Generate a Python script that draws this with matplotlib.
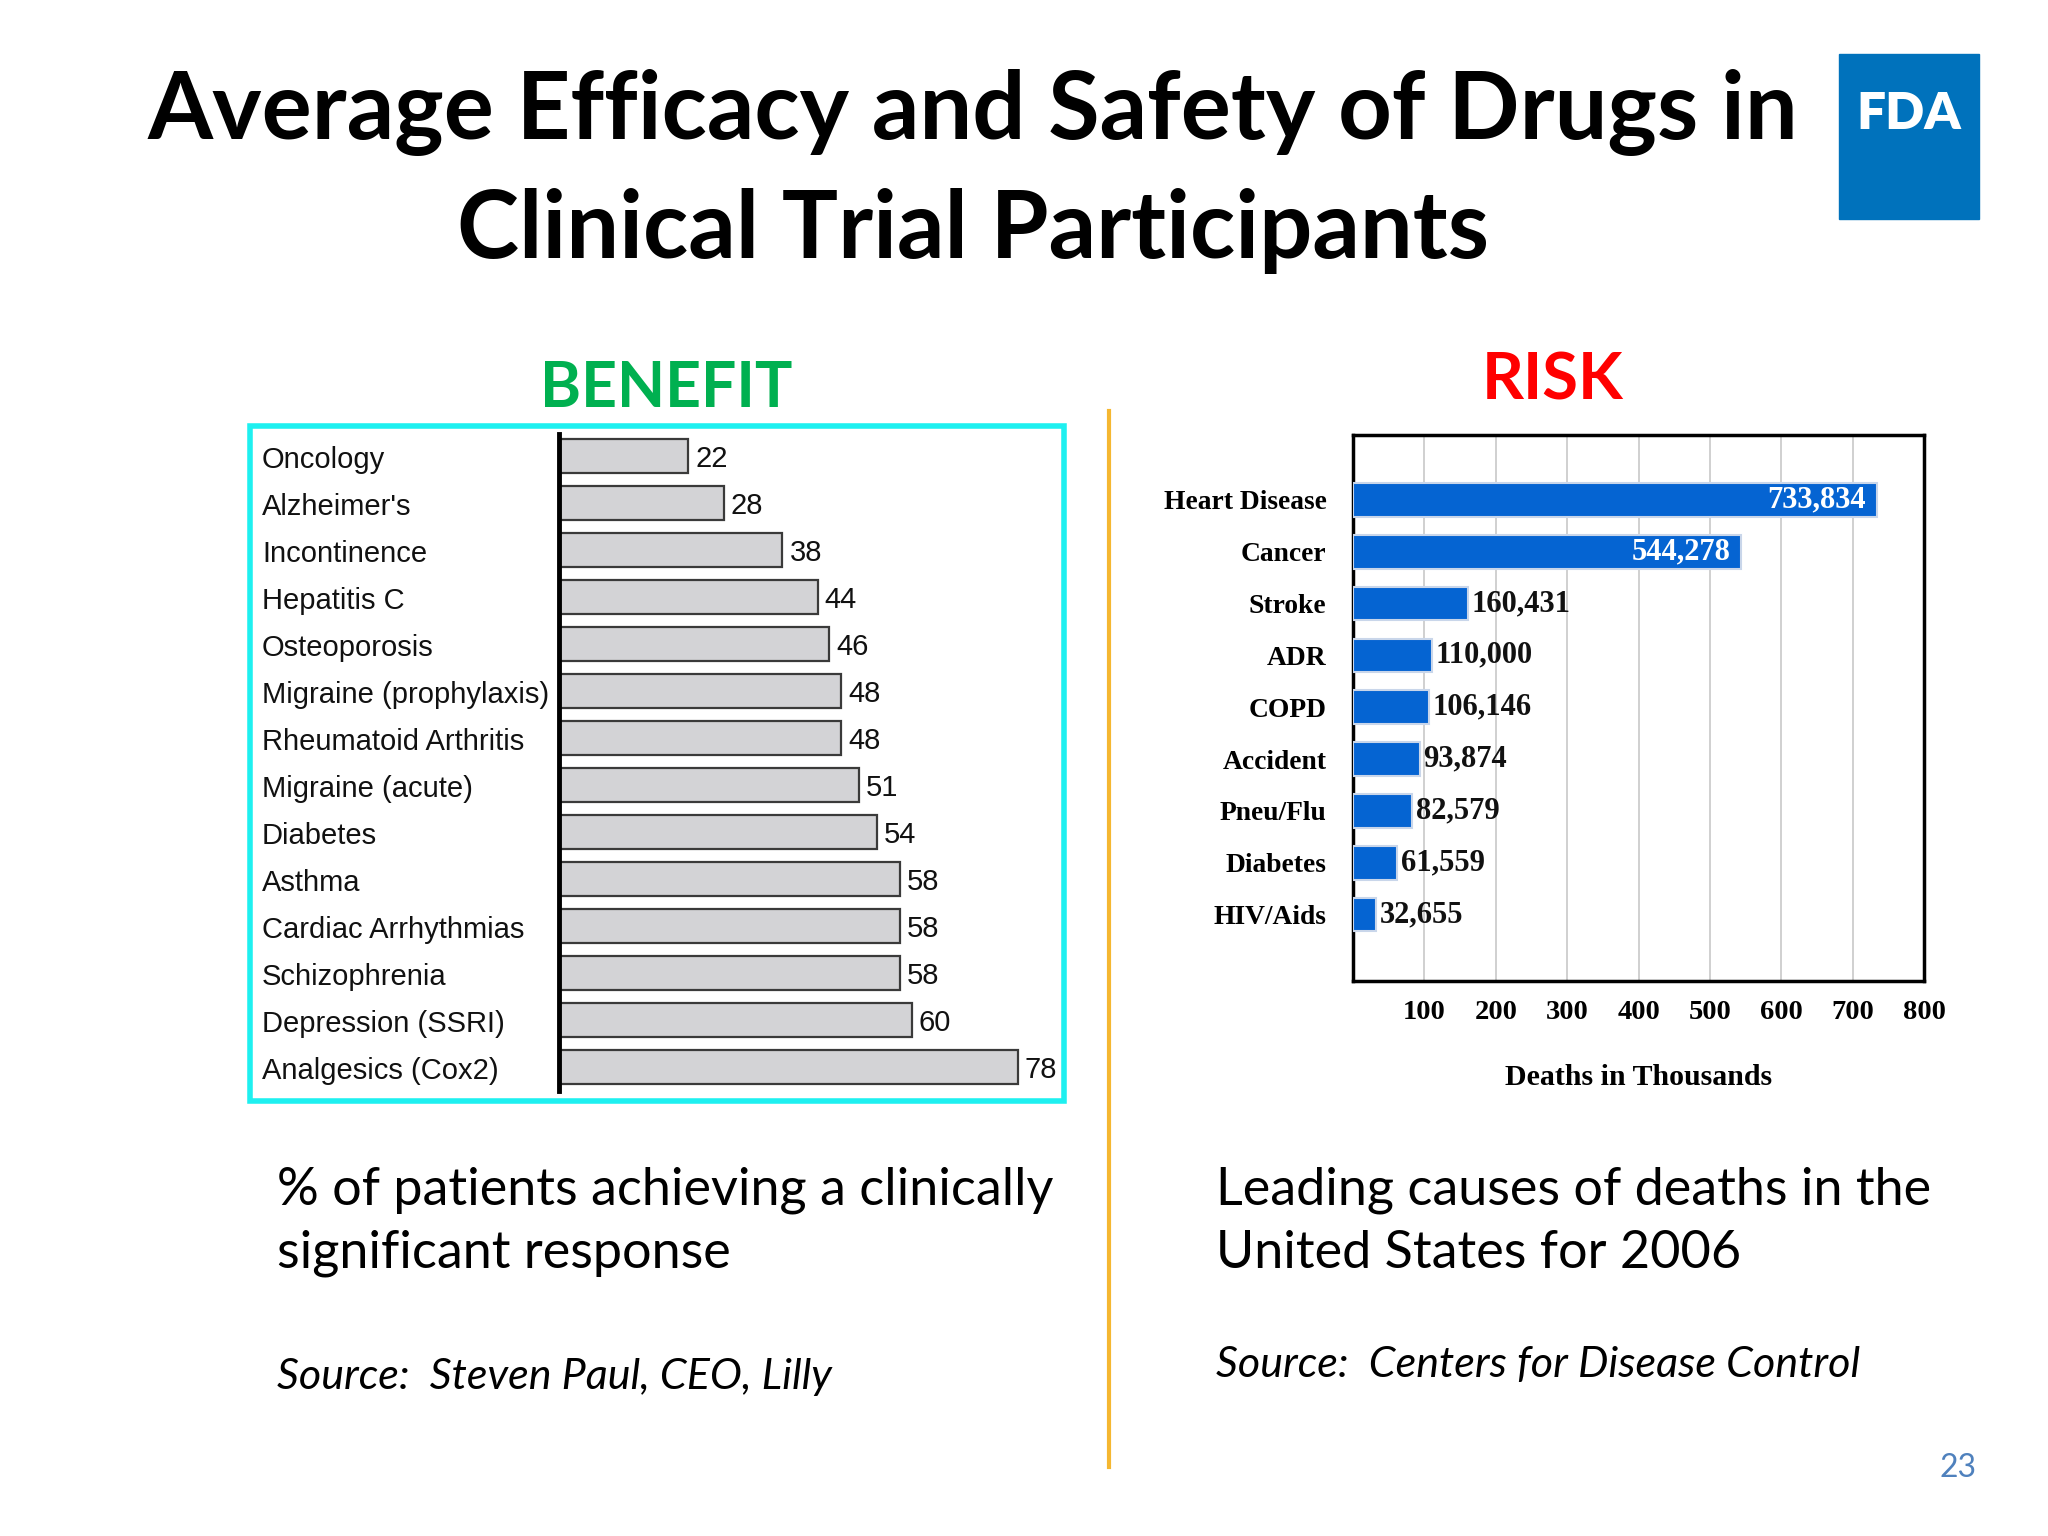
import matplotlib.pyplot as plt
import matplotlib.transforms as mtransforms
from matplotlib.patches import Rectangle

# Daten - Benefit (% Patienten mit klinisch relevantem Ansprechen)
benefit_labels = ['Oncology', "Alzheimer's", 'Incontinence', 'Hepatitis C', 'Osteoporosis',
                  'Migraine (prophylaxis)', 'Rheumatoid Arthritis', 'Migraine (acute)', 'Diabetes',
                  'Asthma', 'Cardiac Arrhythmias', 'Schizophrenia', 'Depression (SSRI)', 'Analgesics (Cox2)']
benefit_values = [22, 28, 38, 44, 46, 48, 48, 51, 54, 58, 58, 58, 60, 78]

# Daten - Risk (Todesfaelle USA 2006)
risk_labels = ['Heart Disease', 'Cancer', 'Stroke', 'ADR', 'COPD', 'Accident', 'Pneu/Flu', 'Diabetes', 'HIV/Aids']
risk_deaths = [733834, 544278, 160431, 110000, 106146, 93874, 82579, 61559, 32655]
risk_ticks = [100, 200, 300, 400, 500, 600, 700, 800]

W, H = 2048, 1536
fig = plt.figure(figsize=(W / 100, H / 100), dpi=100)


def px_axes(x0, y0, x1, y1):
    return fig.add_axes([x0 / W, 1 - y1 / H, (x1 - x0) / W, (y1 - y0) / H])


# Hintergrund-Achse fuer Texte und Rahmen (Pixelkoordinaten)
ax0 = fig.add_axes([0, 0, 1, 1])
ax0.set_xlim(0, W)
ax0.set_ylim(H, 0)
ax0.axis('off')

ax0.text(973, 113, 'Average Efficacy and Safety of Drugs in', ha='center', va='center',
         fontsize=67.5, fontweight='bold', family='Lato')
ax0.text(973, 231, 'Clinical Trial Participants', ha='center', va='center',
         fontsize=67.5, fontweight='bold', family='Lato')

# FDA Logo
ax0.add_patch(Rectangle((1839, 54), 140, 165, color='#0072BC'))
ax0.text(1909, 114, 'FDA', ha='center', va='center', color='white', fontsize=37,
         fontweight='heavy', family='Lato')

ax0.text(666, 389, 'BENEFIT', ha='center', va='center', color='#00B050',
         fontsize=45, fontweight='bold', family='Lato')
ax0.text(1553, 381, 'RISK', ha='center', va='center', color='#FF0000',
         fontsize=47, fontweight='bold', family='Lato')

# Rahmen links, Trennlinie
ax0.add_patch(Rectangle((250, 426), 814, 675, fill=False, edgecolor='#1EF0F0', lw=4))
ax0.plot([1109, 1109], [411, 1467], color='#F5B731', lw=3)

# Untertitel / Quellen
ax0.text(277, 1190, '% of patients achieving a clinically', ha='left', va='center', fontsize=37.5, family='Lato')
ax0.text(277, 1253, 'significant response', ha='left', va='center', fontsize=37.5, family='Lato')
ax0.text(277, 1377, 'Source:  Steven Paul, CEO, Lilly', ha='left', va='center', fontsize=31,
         style='italic', family='Lato')
ax0.text(1216, 1190, 'Leading causes of deaths in the', ha='left', va='center', fontsize=37.5, family='Lato')
ax0.text(1216, 1253, 'United States for 2006', ha='left', va='center', fontsize=37.5, family='Lato')
ax0.text(1216, 1365, 'Source:  Centers for Disease Control', ha='left', va='center', fontsize=31,
         style='italic', family='Lato')
ax0.text(1958, 1468, '23', ha='center', va='center', color='#4F81BD', fontsize=23, family='Lato')

# Linkes Diagramm
ax1 = px_axes(559, 434, 1040, 1091)
ypos = list(range(len(benefit_values)))
ax1.barh(ypos, benefit_values, height=0.72, color='#D3D3D6', edgecolor='#3a3a3a', lw=1.6)
ax1.set_xlim(0, 481 / 5.88)
ax1.set_ylim(13.51, -0.47)
for s in ['top', 'right', 'bottom']:
    ax1.spines[s].set_visible(False)
ax1.spines['left'].set_linewidth(3.5)
ax1.set_xticks([])
ax1.set_yticks([])
ax1.patch.set_visible(False)
trans = mtransforms.blended_transform_factory(fig.transFigure, ax1.transData)
for i, (lab, v) in enumerate(zip(benefit_labels, benefit_values)):
    ax1.text(262 / W, i + 0.08, lab, transform=trans, ha='left', va='center', fontsize=21,
             family='Liberation Sans', color='#111111')
    ax1.text(v + 1.2, i + 0.06, str(v), ha='left', va='center', fontsize=21,
             family='Liberation Sans', color='#111111')

# Rechtes Diagramm
ax2 = px_axes(1353, 435, 1924, 981)
vals = [d / 1000 for d in risk_deaths]
rpos = list(range(len(vals)))
ax2.barh(rpos, vals, height=0.65, color='#0564D2', edgecolor='#C9D6EA', lw=1.5, zorder=3)
ax2.set_xlim(0, 800)
ax2.set_ylim(9.28, -1.25)
ax2.set_xticks(risk_ticks)
ax2.set_xticklabels([str(t) for t in risk_ticks], family='Liberation Serif', fontweight='bold', fontsize=20.5)
ax2.tick_params(axis='x', length=0, pad=14)
ax2.set_yticks(rpos)
ax2.set_yticklabels(risk_labels, family='Liberation Serif', fontweight='bold', fontsize=19.8)
ax2.tick_params(axis='y', length=0, pad=19)
ax2.grid(axis='x', color='#C8C8C8', lw=1.2, zorder=0)
for s in ax2.spines.values():
    s.set_linewidth(2.5)
ax2.set_xlabel('Deaths in Thousands', family='Liberation Serif', fontweight='bold', fontsize=21.5, labelpad=28)
for i, (d, v) in enumerate(zip(risk_deaths, vals)):
    txt = f'{d:,}'
    if v > 400:
        ax2.text(v - 15, i, txt, ha='right', va='center', color='white', fontsize=22,
                 family='Liberation Serif', fontweight='bold', zorder=4)
    else:
        ax2.text(v + 5, i, txt, ha='left', va='center', color='#111111', fontsize=22,
                 family='Liberation Serif', fontweight='bold', zorder=4)

fig.savefig('out.png', dpi=100)
